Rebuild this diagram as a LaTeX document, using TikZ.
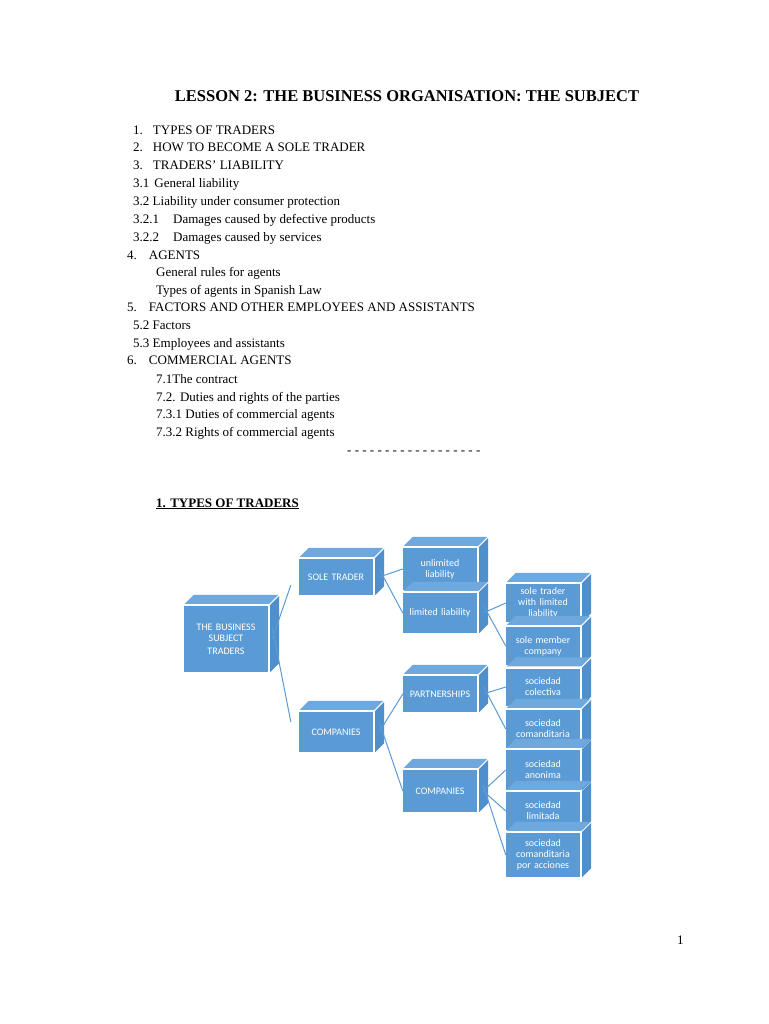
\documentclass[tikz,border=0pt]{standalone}
\usepackage{fontspec}
\setmainfont{Liberation Serif}
\newfontfamily\boxfont{Carlito}
\definecolor{bfront}{HTML}{5B9BD5}
\definecolor{btop}{HTML}{6FA8DC}
\definecolor{bside}{HTML}{4F8FCB}
\definecolor{conn}{HTML}{5B9BD5}
\newcommand\cubenode[6]{%
 \node[box,minimum width=#4pt,minimum height=#5pt,text width=#4pt-6pt] (#1) at (#2,#3) {#6};
 \fill[btop] ([xshift=1pt,yshift=2pt]#1.north west) -- ++(9pt,9pt) -- ([xshift=10pt,yshift=11pt]#1.north east) -- ([xshift=1pt,yshift=2pt]#1.north east) -- cycle;
 \fill[bside] ([xshift=2pt,yshift=1pt]#1.north east) -- ++(9pt,9pt) -- ([xshift=11pt,yshift=9pt]#1.south east) -- ([xshift=2pt]#1.south east) -- cycle;
}
\tikzset{box/.style={fill=bfront,text=white,align=center,inner sep=1pt,font=\boxfont\fontsize{10}{11}\selectfont},
 lnk/.style={draw=conn,line width=1pt},
 txt/.style={anchor=base west,inner sep=0pt,font=\fontsize{13}{15}\selectfont}}
\begin{document}
\begin{tikzpicture}[x=1pt,y=-1pt]
\useasboundingbox (0,0) rectangle (768,1024);
\node[anchor=base,inner sep=0pt,font=\bfseries\fontsize{16.5}{19}\selectfont] (title) at (407,102) {LESSON 2: THE BUSINESS ORGANISATION: THE SUBJECT};
\node[txt] (l1) at (133,135) {1.\hspace{10pt}TYPES OF TRADERS};
\node[txt] (l2) at (133,152) {2.\hspace{10pt}HOW TO BECOME A SOLE TRADER};
\node[txt] (l3) at (133,170) {3.\hspace{10pt}TRADERS’ LIABILITY};
\node[txt] (l4) at (133,188) {3.1\hspace{5pt}General liability};
\node[txt] (l5) at (133,206) {3.2 Liability under consumer protection};
\node[txt] (l6) at (133,224) {3.2.1\hspace{14pt}Damages caused by defective products};
\node[txt] (l7) at (133,241) {3.2.2\hspace{14pt}Damages caused by services};
\node[txt] (l8) at (127,259) {4.\hspace{12pt}AGENTS};
\node[txt] (l9) at (156,276) {General rules for agents};
\node[txt] (l10) at (156,294) {Types of agents in Spanish Law};
\node[txt] (l11) at (127,311) {5.\hspace{12pt}FACTORS AND OTHER EMPLOYEES AND ASSISTANTS};
\node[txt] (l12) at (133,329) {5.2 Factors};
\node[txt] (l13) at (133,347) {5.3 Employees and assistants};
\node[txt] (l14) at (127,364) {6.\hspace{12pt}COMMERCIAL AGENTS};
\node[txt] (l15) at (156,383) {7.1The contract};
\node[txt] (l16) at (156,401) {7.2. Duties and rights of the parties};
\node[txt] (l17) at (156,418) {7.3.1 Duties of commercial agents};
\node[txt] (l18) at (156,436) {7.3.2 Rights of commercial agents};
\node[txt] (dash) at (347,454) {- - - - - - - - - - - - - - - - - -};
\node[txt,font=\bfseries\fontsize{13}{15}\selectfont] (h1) at (156,507) {\underline{1. TYPES OF TRADERS}};
% boxes
\cubenode{bus}{226}{639}{84}{66}{THE BUSINESS\\ SUBJECT\\[2pt] TRADERS}
\cubenode{sole}{336}{577}{74}{36}{SOLE TRADER}
\cubenode{comp}{336}{732}{74}{40}{COMPANIES}
\cubenode{unl}{440}{569}{74}{42}{unlimited\\ liability}
\cubenode{lim}{440}{613}{74}{40}{limited liability}
\cubenode{part}{440}{694}{74}{36}{PARTNERSHIPS}
\cubenode{comp2}{440}{791}{74}{42}{COMPANIES}
\cubenode{r1}{543}{603}{74}{38}{sole trader\\ with limited\\ liability}
\cubenode{r2}{543}{646}{74}{38}{sole member\\ company}
\cubenode{r3}{543}{687}{74}{37}{sociedad\\ colectiva}
\cubenode{r4}{543}{729}{74}{38}{sociedad\\ comanditaria}
\cubenode{r5}{543}{770}{74}{40}{sociedad\\ anonima}
\cubenode{r6}{543}{811}{74}{38}{sociedad\\ limitada}
\cubenode{r7}{543}{855}{74}{44}{sociedad\\ comanditaria\\ por acciones}
% connectors
\draw[lnk] ([xshift=4pt]bus.east) -- ([xshift=-8pt,yshift=10pt]sole.south west);
\draw[lnk] ([xshift=4pt,yshift=12pt]bus.east) -- ([xshift=-8pt,yshift=-10pt]comp.north west);
\draw[lnk] ([xshift=6pt]sole.east) -- (unl.west);
\draw[lnk] ([xshift=6pt,yshift=8pt]sole.east) -- (lim.west);
\draw[lnk] ([xshift=6pt]comp.east) -- (part.west);
\draw[lnk] ([xshift=6pt,yshift=10pt]comp.east) -- (comp2.west);
\draw[lnk] ([xshift=6pt]lim.east) -- (r1.west);
\draw[lnk] ([xshift=6pt,yshift=8pt]lim.east) -- (r2.west);
\draw[lnk] ([xshift=6pt]part.east) -- (r3.west);
\draw[lnk] ([xshift=6pt,yshift=8pt]part.east) -- (r4.west);
\draw[lnk] ([xshift=6pt]comp2.east) -- (r5.west);
\draw[lnk] ([xshift=6pt]comp2.east) -- (r6.west);
\draw[lnk] ([xshift=6pt,yshift=6pt]comp2.east) -- (r7.west);
\node[txt] (pg) at (677,944) {1};
\end{tikzpicture}
\end{document}
